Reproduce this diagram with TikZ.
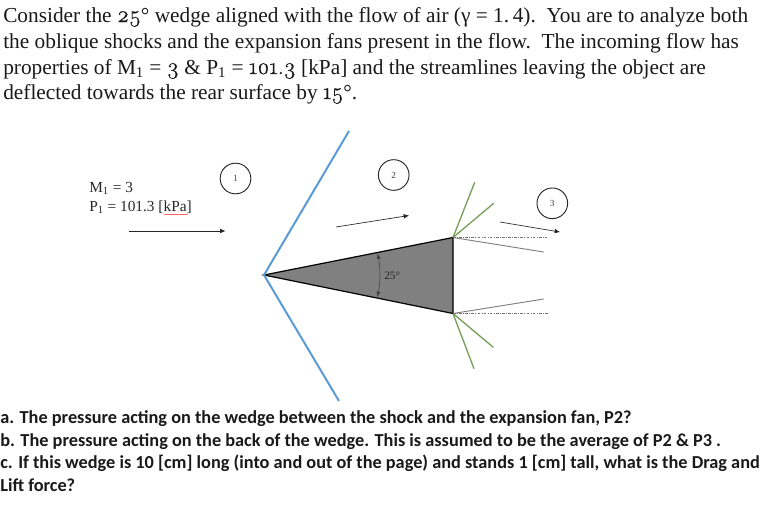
\documentclass[tikz,border=0pt]{standalone}
\usepackage{fontspec}
\setmainfont{Liberation Serif}
\newfontfamily\boldtext{Carlito}[BoldFont=Carlito Bold]
\newfontfamily\oldnum{Latin Modern Roman}[Numbers=OldStyle, FakeBold=0.8, Scale=1.08]
\usepackage{tikz}
\usetikzlibrary{arrows.meta}

\tikzset{
    problemline/.style={anchor=base west, inner sep=0pt, font=\fontsize{16}{18}\selectfont, text=black!90},
    questionline/.style={anchor=base west, inner sep=0pt, font=\boldtext\bfseries\fontsize{13.72}{15}\selectfont, text=black!90},
    flowlabel/.style={anchor=base west, inner sep=0pt, font=\fontsize{11.5}{13}\selectfont, text=black!85},
    regionmark/.style={draw=black!85, circle, minimum size=23pt, inner sep=0pt, line width=0.7pt, font=\fontsize{7}{8}\selectfont, text=black!75},
    flowarrow/.style={draw=black!85, line width=0.5pt, -{Latex[length=4pt,width=3.5pt]}},
    shockline/.style={draw=blue1, line width=1.5pt},
    fanline/.style={draw=green1, line width=1pt},
    streamline/.style={draw=black!50, line width=0.7pt},
    refline/.style={draw=black!55, line width=0.5pt, dash pattern=on 2pt off 1pt on 0.6pt off 1pt}
}
\definecolor{blue1}{RGB}{91,155,213}
\definecolor{green1}{RGB}{120,160,90}

\begin{document}
\begin{tikzpicture}[x=0.75pt, y=-0.75pt]
    \useasboundingbox (0, 0) rectangle (773, 508);

    \node[problemline] (line1) at (3, 22) {Consider the {\oldnum 25}° wedge aligned with the flow of air (γ = 1.\,4).\ \ You are to analyze both};
    \node[problemline] (line2) at (3, 48) {the oblique shocks and the expansion fans present in the flow.\ \ The incoming flow has};
    \node[problemline] (line3) at (3, 74) {properties of M\textsubscript{1} = {\oldnum 3} \& P\textsubscript{1} = {\oldnum 101.3} [kPa] and the streamlines leaving the object are};
    \node[problemline] (line4) at (3, 99) {deflected towards the rear surface by {\oldnum 15}°.};

    \coordinate (tip) at (264, 275);
    \coordinate (top) at (453, 237.5);
    \coordinate (bot) at (453, 313.5);

    \draw[fill=black!50, draw=black, line width=0.9pt] (tip) -- (top) -- (bot) -- cycle;

    \coordinate (shockup) at (349, 131);
    \coordinate (shockdown) at (339, 401);
    \draw[shockline] (shockup) -- (tip) -- (shockdown);

    % expansion fans
    \coordinate (fanA) at (474.7, 182.3);
    \coordinate (fanB) at (493.7, 203.3);
    \coordinate (fanC) at (474, 368.7);
    \coordinate (fanD) at (493.3, 347.3);
    \draw[fanline] (top) -- (fanA);
    \draw[fanline] (top) -- (fanB);
    \draw[fanline] (bot) -- (fanC);
    \draw[fanline] (bot) -- (fanD);

    \coordinate (streamA) at (543.7, 252);
    \coordinate (streamB) at (543.7, 299);
    \draw[streamline] (top) -- (streamA);
    \draw[streamline] (bot) -- (streamB);

    \coordinate (refA) at (547, 237.5);
    \coordinate (refB) at (548, 313.5);
    \draw[refline] (top) -- (refA);
    \draw[refline] (bot) -- (refB);

    \coordinate (angleA) at (377.7, 253.5);
    \coordinate (angleB) at (377.3, 297);
    \draw[draw=black!75, line width=0.4pt, {Latex[length=4pt,width=3pt]}-{Latex[length=4pt,width=3pt]}] (angleA) .. controls (380.5, 268) and (380.5, 282) .. (angleB);
    \node[flowlabel, font=\fontsize{8.5}{10}\selectfont] (anglelabel) at (384, 279) {25°};

    \node[regionmark] (one) at (235.5, 178.5) {1};
    \node[regionmark] (two) at (393.7, 175) {2};
    \node[regionmark] (three) at (552.3, 203.3) {3};

    \node[flowlabel] (mach) at (89, 192) {M\textsubscript{1} = 3};
    \node[flowlabel] (press) at (89, 211) {P\textsubscript{1} = 101.3 [kPa]};
    \coordinate (squigA) at (164, 214.5);
    \coordinate (squigB) at (188, 214.5);
    \draw[red!60, line width=0.3pt] (squigA) -- (squigB);

    \coordinate (inA) at (129, 231);
    \coordinate (inB) at (225.5, 231);
    \coordinate (midA) at (336, 227);
    \coordinate (midB) at (409, 215.5);
    \coordinate (outA) at (500, 222);
    \coordinate (outB) at (560, 232);
    \draw[flowarrow] (inA) -- (inB);
    \draw[flowarrow] (midA) -- (midB);
    \draw[flowarrow] (outA) -- (outB);

    \node[questionline] (parta) at (0, 423.5) {a. The pressure acting on the wedge between the shock and the expansion fan, P2?};
    \node[questionline] (partb) at (0, 446.5) {b. The pressure acting on the back of the wedge. This is assumed to be the average of P2 \& P3 .};
    \node[questionline] (partc) at (0, 468.5) {c. If this wedge is 10 [cm] long (into and out of the page) and stands 1 [cm] tall, what is the Drag and};
    \node[questionline] (partd) at (0, 491.5) {Lift force?};
\end{tikzpicture}
\end{document}
